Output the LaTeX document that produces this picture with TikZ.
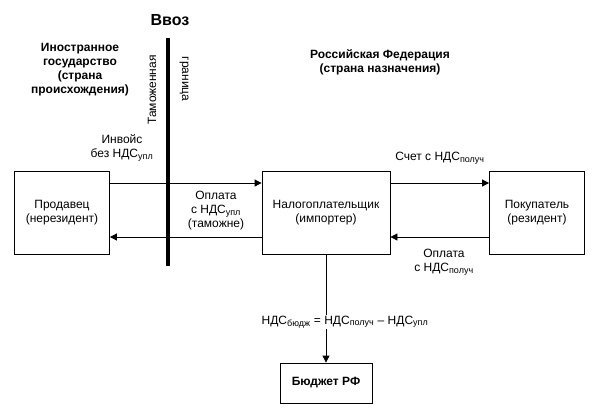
\documentclass[tikz,border=0pt]{standalone}
\usepackage{fontspec}
\setmainfont{Liberation Sans}
\usetikzlibrary{arrows.meta}
\newcommand{\sbx}[1]{$_{\mbox{\fontsize{9}{10}\selectfont #1}}$}
\begin{document}
\begin{tikzpicture}[x=1pt,y=-1pt,
  box/.style={draw,thick,align=center,font=\fontsize{12}{14}\selectfont,inner sep=0pt},
  lbl/.style={align=center,font=\fontsize{12}{14}\selectfont},
  hd/.style={align=center,font=\bfseries\fontsize{12}{14}\selectfont},
  arr/.style={thick,-{Triangle[length=7pt,width=7pt]}}]
\useasboundingbox (0,0) rectangle (600,416);
\node[font=\bfseries\fontsize{16}{18}\selectfont] (vvoz) at (170,20) {Ввоз};
\node[hd] (foreign) at (80,70) {Иностранное\\государство\\(страна\\происхождения)};
\node[hd] (rf) at (380,62) {Российская Федерация\\(страна назначения)};
\coordinate (bt) at (168,38);
\coordinate (bb) at (168,266);
\draw[line width=4pt] (bt) -- (bb);
\node[lbl,rotate=90] (tam) at (152,90) {Таможенная};
\node[lbl,rotate=-90] (gr) at (184,79) {граница};
\node[box,minimum width=95pt,minimum height=83pt] (sell) at (62,213) {Продавец\\(нерезидент)};
\node[box,minimum width=128pt,minimum height=83pt] (tax) at (326,213) {Налогоплательщик\\(импортер)};
\node[box,minimum width=95pt,minimum height=83pt] (buy) at (537,213) {Покупатель\\(резидент)};
\node[box,minimum width=92pt,minimum height=40pt,font=\bfseries\fontsize{12}{14}\selectfont] (bud) at (326,383) {Бюджет РФ};
\draw[arr] (sell.east|-0,183) -- (tax.west|-0,183);
\draw[arr] (tax.west|-0,237) -- (sell.east|-0,237);
\draw[arr] (tax.east|-0,183) -- (buy.west|-0,183);
\draw[arr] (buy.west|-0,237) -- (tax.east|-0,237);
\draw[arr] (tax.south) -- (bud.north);
\node[lbl] (inv) at (122,148) {Инвойс\\без НДС\sbx{упл}};
\node[lbl] (opl1) at (216,211) {Оплата\\с НДС\sbx{упл}\\(таможне)};
\node[lbl] (sch) at (440,158) {Счет с НДС\sbx{получ}};
\node[lbl] (opl2) at (444,262) {Оплата\\с НДС\sbx{получ}};
\node[lbl,fill=white,inner sep=1pt] (form) at (345,322) {НДС\sbx{бюдж} = НДС\sbx{получ} -- НДС\sbx{упл}};
\end{tikzpicture}
\end{document}
